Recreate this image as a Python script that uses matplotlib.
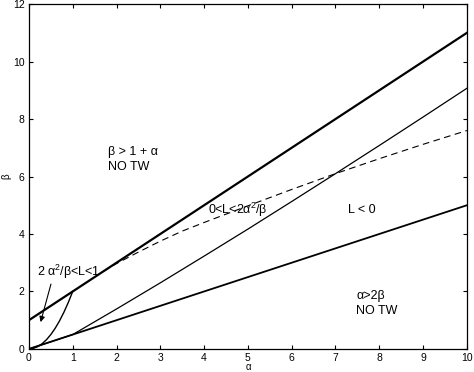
import numpy as np
import matplotlib
matplotlib.use("Agg")
import matplotlib.pyplot as plt

plt.rcParams['font.family'] = ['Liberation Sans', 'DejaVu Sans']
plt.rcParams['mathtext.fontset'] = 'custom'
plt.rcParams['mathtext.rm'] = 'Liberation Sans'
plt.rcParams['mathtext.it'] = 'Liberation Sans'

# boundary beta = 1 + alpha
upper_alpha = [0, 10]
upper_beta = [1, 11]
# boundary alpha = 2 beta
lower_alpha = [0, 10]
lower_beta = [0, 5]
# curve beta = 2 alpha^2 (L = 1)
quad_alpha = [0, 0.1, 0.2, 0.3, 0.4, 0.5, 0.6, 0.7, 0.8, 0.9, 1.0]
quad_beta = [0, 0.02, 0.08, 0.18, 0.32, 0.5, 0.72, 0.98, 1.28, 1.62, 2.0]
# L = 0 boundary
mid_alpha = [0, 1, 2, 3, 4, 5, 6, 7, 8, 9, 10]
mid_beta = [0, 0.5, 1.39, 2.30, 3.23, 4.17, 5.13, 6.10, 7.08, 8.07, 9.07]
# dashed curve
dash_alpha = [1.7, 2.0, 2.5, 3.0, 3.5, 4.0, 5.0, 6.0, 7.0, 8.0, 9.0, 10.0]
dash_beta = [2.7, 2.97, 3.37, 3.75, 4.1, 4.4, 4.98, 5.55, 6.1, 6.62, 7.12, 7.6]

x_ticks = list(range(0, 11))
y_ticks = list(range(0, 13, 2))

fig = plt.figure(figsize=(4.74, 3.72), dpi=100)
ax = fig.add_axes([0.061, 0.062, 0.924, 0.927])

ax.plot(upper_alpha, upper_beta, color='black', lw=1.6)
ax.plot(lower_alpha, lower_beta, color='black', lw=1.3)
ax.plot(quad_alpha, quad_beta, color='black', lw=1.0)
ax.plot(mid_alpha, mid_beta, color='black', lw=0.9)
ax.plot(dash_alpha, dash_beta, color='black', lw=0.8, ls=(0, (6, 4)))

fs = 9
ax.text(1.8, 6.85, r'β > 1 + α', fontsize=fs, va='center')
ax.text(1.8, 6.33, 'NO TW', fontsize=fs, va='center')
ax.text(4.09, 4.85, r'0<L<2α$^2$/β', fontsize=fs, va='center')
ax.text(7.28, 4.85, 'L < 0', fontsize=fs, va='center')
ax.text(7.47, 1.84, 'α>2β', fontsize=fs, va='center')
ax.text(7.47, 1.32, 'NO TW', fontsize=fs, va='center')
ax.text(0.18, 2.68, r'2 α$^2$/β<L<1', fontsize=fs, va='center')
ax.annotate('', xy=(0.25, 0.84), xytext=(0.52, 2.35),
            arrowprops=dict(arrowstyle='-|>', color='black', lw=0.8,
                            mutation_scale=8))

ax.set_xlim(0, 10)
ax.set_ylim(0, 12)
ax.set_xticks(x_ticks)
ax.set_yticks(y_ticks)
ax.tick_params(direction='in', top=True, right=True, labelsize=7.5, length=3, pad=3)
for s in ax.spines.values():
    s.set_linewidth(0.9)

fig.text(248 / 474, 1 - 367 / 372, 'α', fontsize=7, ha='center', va='center')
fig.text(6 / 474, 1 - 176 / 372, 'β', fontsize=7, ha='center', va='center',
         rotation=90)

fig.savefig('out.png', dpi=100)
